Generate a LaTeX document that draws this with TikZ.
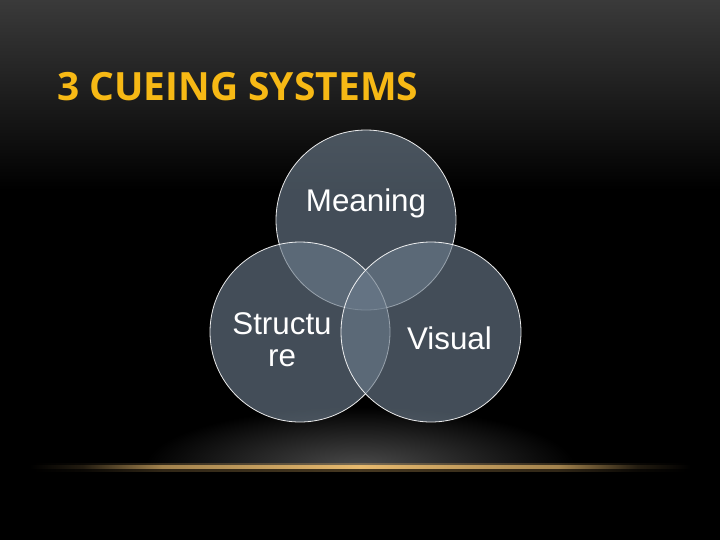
\documentclass[tikz,border=0pt]{standalone}
\usepackage{fontspec}
\setmainfont{Liberation Sans}
\newfontfamily\titlefont{Open Sans}
\definecolor{linegold}{RGB}{232,186,110}
\definecolor{slate}{RGB}{106,122,138}
\pgfdeclarehorizontalshading{goldline}{100bp}{color(0bp)=(black); color(25bp)=(black); color(29bp)=(linegold!15!black); color(35bp)=(linegold!70!black); color(50bp)=(linegold); color(65bp)=(linegold!70!black); color(71bp)=(linegold!15!black); color(75bp)=(black); color(100bp)=(black)}

\begin{document}
\begin{tikzpicture}[x=0.75pt,y=0.75pt,yscale=-1,xscale=1,
    venn/.style={draw={rgb, 255:red, 255; green, 255; blue, 255 }, draw opacity=0.9, line width=0.6, fill=slate, fill opacity=0.64},
    lbl/.style={font=\fontsize{23.5}{24}\selectfont, color={rgb, 255:red, 255; green, 255; blue, 255 }}]
    \useasboundingbox (0,0) rectangle (720,540);
    
    %Shape: Rectangle (background)
    \fill [black] (0,0) rectangle (720,540);
    \shade [top color={rgb, 255:red, 58; green, 58; blue, 58 }, middle color={rgb, 255:red, 20; green, 20; blue, 20 }, bottom color=black] (0,0) rectangle (720,190);
    
    %Shape: Ellipse (glow above the line)
    \begin{scope}
    \clip (0,0) rectangle (720,467);
    \shade [inner color={rgb, 255:red, 75; green, 75; blue, 75 }, outer color=black] (360,467) ellipse (215 and 60);
    \end{scope}
    
    %Straight Lines (gold line)
    \shade [shading=goldline, opacity=0.3] (30,463) rectangle (690,471);
    \shade [shading=goldline] (30,465.8) rectangle (690,468.2);
    
    %Shape: Circle
    \draw [venn] (366,220) circle (90);
    %Shape: Circle
    \draw [venn] (300,332) circle (90);
    %Shape: Circle
    \draw [venn] (431,332) circle (90);
    
    % Text Node
    \draw (57,100) node (title) [anchor=base west, inner sep=0, font=\titlefont\bfseries\fontsize{29.2}{30}\selectfont, color={rgb, 255:red, 247; green, 185; blue, 21 }] {3 CUEING SYSTEMS};
    % Text Node
    \draw (366,211.7) node (meaning) [lbl, anchor=base] {Meaning};
    % Text Node
    \draw (282,340) node (structure) [lbl, align=center] {Structu\\re};
    % Text Node
    \draw (449.5,349) node (visual) [lbl, anchor=base] {Visual};
\end{tikzpicture}
\end{document}
